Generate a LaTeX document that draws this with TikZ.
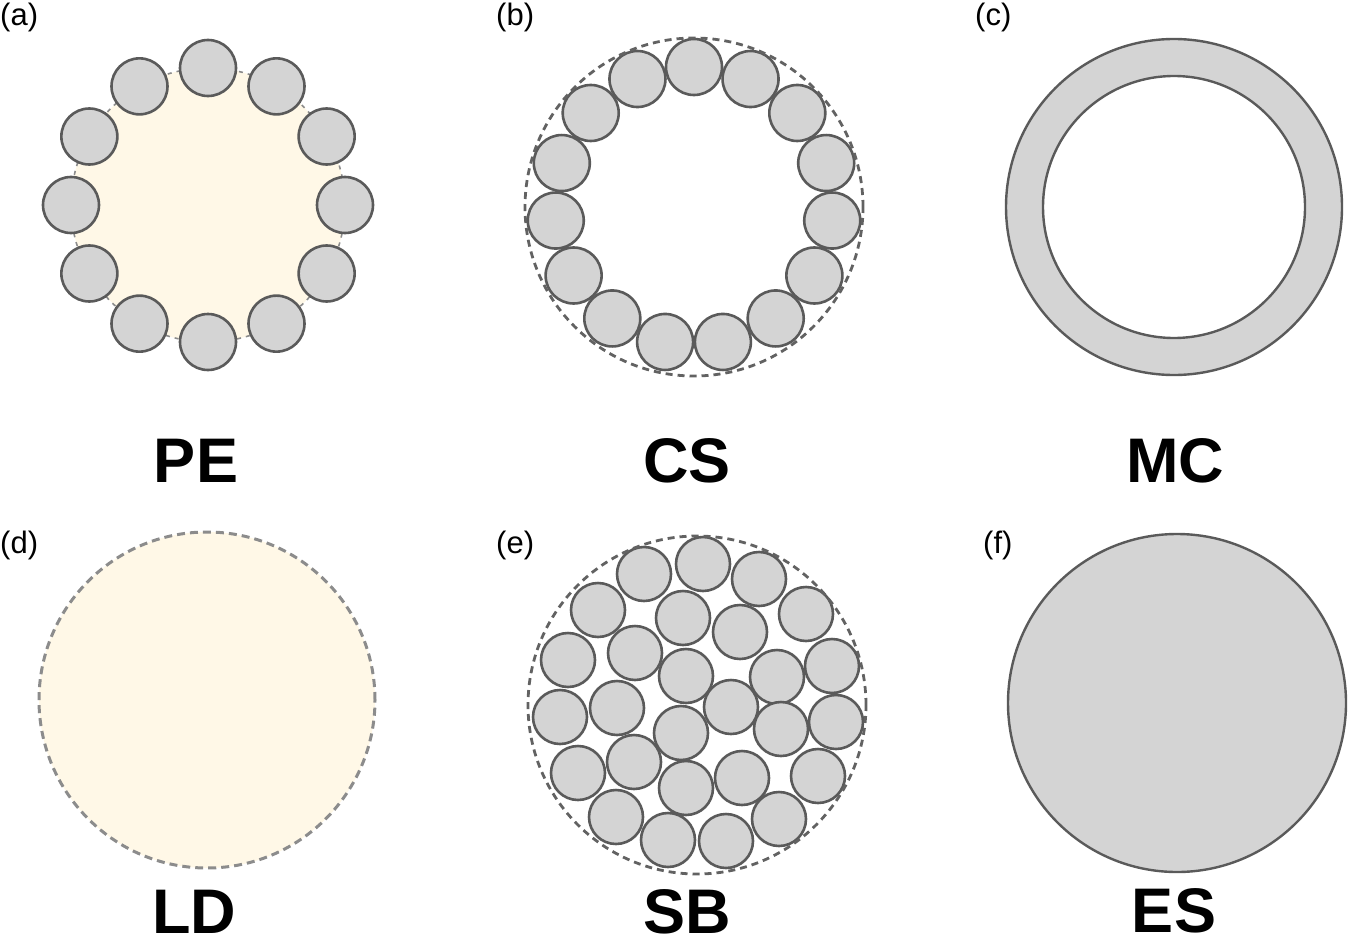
\documentclass[tikz,border=0pt]{standalone}
\usepackage{fontspec}
\setmainfont{Liberation Sans}
\usetikzlibrary{calc}
\definecolor{rim}{HTML}{5A5A5A}
\definecolor{bead}{HTML}{D4D4D4}
\definecolor{cream}{HTML}{FFF8E7}
\definecolor{dashgray}{HTML}{626262}
\definecolor{lightdash}{HTML}{8C8C8C}

\begin{document}
\begin{tikzpicture}[x=1pt, y=-1pt]
        \tikzstyle{bille}=[draw=rim, fill=bead, line width=2.6pt];
        \tikzstyle{enveloppe}=[draw=dashgray, line width=2.8pt, dash pattern=on 7pt off 5pt];
        \tikzstyle{lettre}=[anchor=base west, inner sep=0, font=\fontsize{31}{34}\selectfont];
        \tikzstyle{sigle}=[anchor=base, inner sep=0, text depth=0pt, font=\fontsize{63}{68}\selectfont\bfseries];

        \useasboundingbox (0,0) rectangle (1348,947);

        % (a) PE
        \coordinate (Ca) at (208,205);
        \fill[cream] (Ca) circle[radius=137pt];
        \draw[lightdash, line width=1.6pt, dash pattern=on 4pt off 5pt] (Ca) circle[radius=137pt];
        \foreach \i in {0,..., 11}{
          \draw[bille] ($(Ca)+({-30*\i+90}:137pt)$) circle[radius=28pt];
        }

        % (b) CS
        \coordinate (Cb) at (694,206);
        \foreach \i in {0,..., 14}{
          \draw[bille] ($(Cb)+({24*\i+90}:139pt)$) circle[radius=28pt];
        }
        \draw[enveloppe] (694,207) circle[radius=169pt];

        % (c) MC
        \coordinate (Cc) at (1174,207);
        \draw[bille, even odd rule, line width=2.4pt] (Cc) circle[radius=168pt] (Cc) circle[radius=131pt];

        % (d) LD
        \coordinate (Cd) at (207,700);
        \draw[fill=cream, draw=lightdash, line width=3pt, dash pattern=on 8pt off 5pt] (Cd) circle[radius=168pt];

        % (e) SB
        \foreach \x/\y in {703/564, 644/574, 759/579, 598/610, 683/618, 806/614, 740/632,
                           635/653, 568/660, 832/666, 686/676, 777/677, 617/708, 560/717,
                           731/707, 836/722, 681/733, 781/729, 634/762, 578/773, 742/778,
                           818/776, 686/788, 616/817, 779/819, 668/840, 726/841}{
          \draw[bille] (\x,\y) circle[radius=27pt];
        }
        \draw[enveloppe] (697,705) circle[radius=169pt];

        % (f) ES
        \coordinate (Cf) at (1177,703);
        \draw[bille, line width=2.4pt] (Cf) circle[radius=169pt];

        % lettres et sigles
        \node[lettre] (la) at (0,26) {(a)};
        \node[lettre] (lb) at (496,26) {(b)};
        \node[lettre] (lc) at (975,26) {(c)};
        \node[lettre] (ld) at (0,553) {(d)};
        \node[lettre] (le) at (496,553) {(e)};
        \node[lettre] (lf) at (983,553) {(f)};

        \node[sigle] (PE) at (196,482) {PE};
        \node[sigle] (CS) at (687,482) {CS};
        \node[sigle] (MC) at (1175,482) {MC};
        \node[sigle] (LD) at (194,933) {LD};
        \node[sigle] (SB) at (687,933) {SB};
        \node[sigle] (ES) at (1174,932) {ES};
    \end{tikzpicture}
\end{document}
